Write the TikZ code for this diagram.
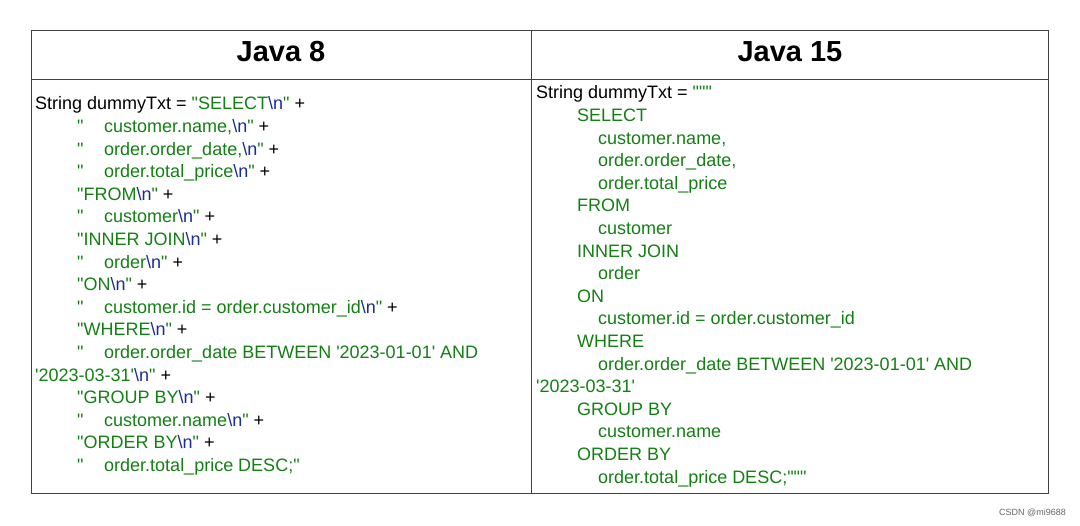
\documentclass[tikz,border=0pt]{standalone}
\usepackage{fontspec}
\newfontfamily\cf{Liberation Sans}
\definecolor{codegreen}{RGB}{20,128,20}
\definecolor{codeblue}{RGB}{25,45,150}
\newcommand{\grn}[1]{\textcolor{codegreen}{#1}}
\newcommand{\bn}{\textcolor{codeblue}{\textbackslash n}}
\newcommand{\qq}{\makebox[27pt][l]{\grn{"}}}
\tikzset{
  ln/.style={anchor=base west,inner sep=0pt,font=\cf\fontsize{18}{20}\selectfont},
  ttl/.style={font=\cf\bfseries\fontsize{29}{32}\selectfont,inner sep=0pt},
  frame/.style={draw=black!75,line width=1pt}
}
\begin{document}
\begin{tikzpicture}[x=1pt,y=-1pt]
\useasboundingbox (0,0) rectangle (1080,526);
\fill[white] (0,0) rectangle (1080,526);
\draw[frame] (31,31) rectangle (1048,494);
\draw[frame] (31,80) -- (1048,80);
\draw[frame] (531,31) -- (531,494);
\node[ttl] (t1) at (281,52) {Java 8};
\node[ttl] (t2) at (790,52) {Java 15};
% left column
\node[ln] (a1) at (35,110.0) {String dummyTxt = \grn{"SELECT\bn"} +};
\node[ln] (a2) at (77,132.6) {\qq\grn{customer.name,\bn"} +};
\node[ln] (a3) at (77,155.2) {\qq\grn{order.order\_date,\bn"} +};
\node[ln] (a4) at (77,177.8) {\qq\grn{order.total\_price\bn"} +};
\node[ln] (a5) at (77,200.4) {\grn{"FROM\bn"} +};
\node[ln] (a6) at (77,223.0) {\qq\grn{customer\bn"} +};
\node[ln] (a7) at (77,245.6) {\grn{"INNER JOIN\bn"} +};
\node[ln] (a8) at (77,268.2) {\qq\grn{order\bn"} +};
\node[ln] (a9) at (77,290.8) {\grn{"ON\bn"} +};
\node[ln] (a10) at (77,313.4) {\qq\grn{customer.id = order.customer\_id\bn"} +};
\node[ln] (a11) at (77,336.0) {\grn{"WHERE\bn"} +};
\node[ln] (a12) at (77,358.6) {\qq\grn{order.order\_date BETWEEN '2023-01-01' AND}};
\node[ln] (a13) at (35,381.2) {\grn{'2023-03-31'\bn"} +};
\node[ln] (a14) at (77,403.8) {\grn{"GROUP BY\bn"} +};
\node[ln] (a15) at (77,426.4) {\qq\grn{customer.name\bn"} +};
\node[ln] (a16) at (77,449.0) {\grn{"ORDER BY\bn"} +};
\node[ln] (a17) at (77,471.6) {\qq\grn{order.total\_price DESC;"}};
% right column
\node[ln] (b1) at (536,99.0) {String dummyTxt = \grn{"""}};
\node[ln] (b2) at (577,121.6) {\grn{SELECT}};
\node[ln] (b3) at (598,144.2) {\grn{customer.name,}};
\node[ln] (b4) at (598,166.8) {\grn{order.order\_date,}};
\node[ln] (b5) at (598,189.4) {\grn{order.total\_price}};
\node[ln] (b6) at (577,212.0) {\grn{FROM}};
\node[ln] (b7) at (598,234.6) {\grn{customer}};
\node[ln] (b8) at (577,257.2) {\grn{INNER JOIN}};
\node[ln] (b9) at (598,279.8) {\grn{order}};
\node[ln] (b10) at (577,302.4) {\grn{ON}};
\node[ln] (b11) at (598,325.0) {\grn{customer.id = order.customer\_id}};
\node[ln] (b12) at (577,347.6) {\grn{WHERE}};
\node[ln] (b13) at (598,370.2) {\grn{order.order\_date BETWEEN '2023-01-01' AND}};
\node[ln] (b14) at (536,392.8) {\grn{'2023-03-31'}};
\node[ln] (b15) at (577,415.4) {\grn{GROUP BY}};
\node[ln] (b16) at (598,438.0) {\grn{customer.name}};
\node[ln] (b17) at (577,460.6) {\grn{ORDER BY}};
\node[ln] (b18) at (598,483.2) {\grn{order.total\_price DESC;"""}};
\node[anchor=base east,inner sep=0pt,font=\cf\fontsize{9}{10}\selectfont,text=black!60] (wm) at (1066,516) {CSDN @mi9688};
\end{tikzpicture}
\end{document}
